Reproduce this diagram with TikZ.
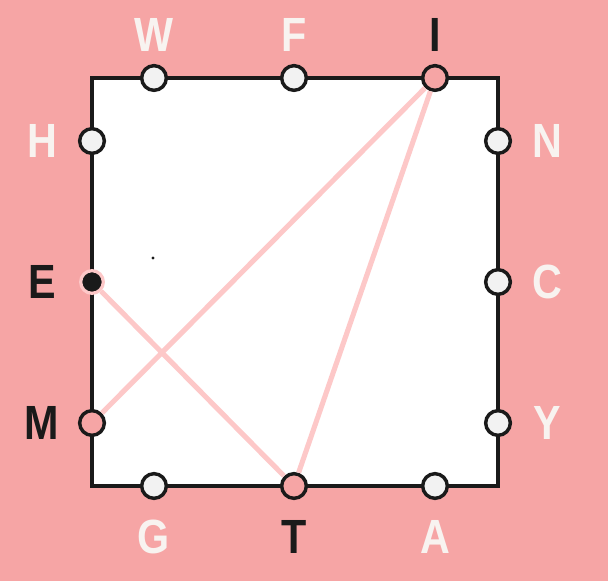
\documentclass[tikz,border=0pt]{standalone}
\usepackage{fontspec}
\setmainfont[FakeStretch=0.86]{Liberation Sans}
\usepackage{xcolor}
\definecolor{bgpink}{HTML}{F6A5A5}
\definecolor{linkpink}{HTML}{FDC8C8}
\definecolor{dotfill}{HTML}{F2F2F2}
\definecolor{ink}{HTML}{1A1A1A}
\definecolor{paper}{HTML}{F8F3F0}
\tikzset{
  pin/.style={circle,draw=ink,line width=2.6pt,fill=dotfill,minimum size=18.5pt,inner sep=0pt},
  hot/.style={pin,fill=bgpink},
  chosen/.style={circle,draw=linkpink,line width=2.4pt,fill=ink,minimum size=17pt,inner sep=0pt},
  lbl/.style={inner sep=0pt,text=paper,font=\fontsize{36}{40}\selectfont\bfseries},
  lbldark/.style={lbl,text=ink},
  link/.style={draw=linkpink,line width=3.8pt}
}

\begin{document}
\begin{tikzpicture}[x=0.75pt,y=0.75pt,yscale=-1,xscale=1]
%set diagram left start at 0, and has height of 581
\path[fill=bgpink] (0,0) rectangle (608,581);

%Shape: Square
\draw[fill=white,draw=ink,line width=2.3pt] (92,78) -- (498,78) -- (498,486) -- (92,486) -- cycle ;

%Dot
\fill[ink] (153,258) circle (1.6);

% Top pins
\node[pin] (W) at (154,78) {};
\node[pin] (F) at (294,78) {};
\node[hot] (I) at (435,78) {};
% Left pins
\node[pin] (H) at (92,141) {};
\node[chosen] (E) at (92,282) {};
\node[hot] (M) at (92,423) {};
% Right pins
\node[pin] (N) at (498,141) {};
\node[pin] (C) at (498,282) {};
\node[pin] (Y) at (498,423) {};
% Bottom pins
\node[pin] (G) at (154,486) {};
\node[hot] (T) at (294,486) {};
\node[pin] (A) at (435,486) {};

%Links
\path[link] (I) -- (M) ;
\path[link] (I) -- (T) ;
\path[link] (E) -- (T) ;

% Text Node
\node[lbl] (Wl) at (154,35) {W};
\node[lbl] (Fl) at (294,35) {F};
\node[lbldark] (Il) at (435,35) {I};
\node[lbl] (Hl) at (42,141) {H};
\node[lbldark] (El) at (42,282) {E};
\node[lbldark] (Ml) at (42,423) {M};
\node[lbl] (Nl) at (547,141) {N};
\node[lbl] (Cl) at (547,282) {C};
\node[lbl] (Yl) at (547,423) {Y};
\node[lbl] (Gl) at (154,537) {G};
\node[lbldark] (Tl) at (294,537) {T};
\node[lbl] (Al) at (435,537) {A};

\end{tikzpicture}
\end{document}
